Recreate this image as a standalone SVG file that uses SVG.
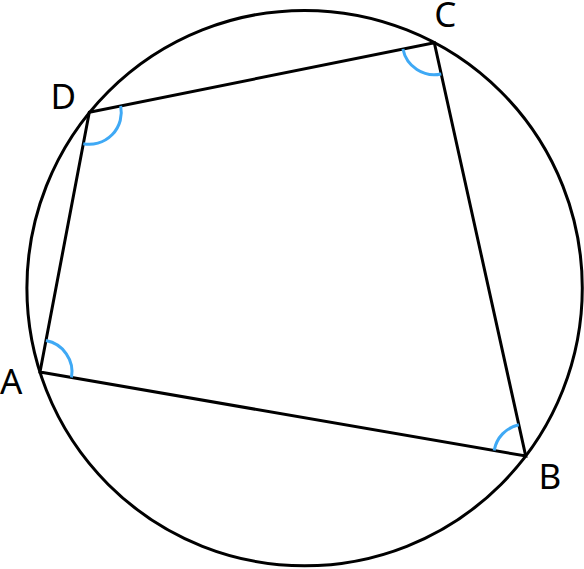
<svg xmlns="http://www.w3.org/2000/svg" width="584" height="569" viewBox="0 0 584 569">
<style>
.ln{fill:none;stroke:#000;stroke-width:3;stroke-linejoin:miter}
.ang{fill:none;stroke:#3fa9f5;stroke-width:3}
.lbl{font-family:"Noto Sans","Open Sans",sans-serif;font-size:35px;fill:#000}
</style>
<rect width="584" height="569" fill="#fff"/>
<g id="circle"><circle class="ln" cx="304.6" cy="288.1" r="277.7"/></g>
<g id="connectors">
<polygon class="ln" points="40,372 525.7,456 434.3,42.7 89.3,112.3"/>
</g>
<g id="angles">
<path class="ang" d="M45.97,340.56 A32,32 0 0 1 71.53,377.45"/>
<path class="ang" d="M494.17,450.55 A32,32 0 0 1 518.79,424.76"/>
<path class="ang" d="M441.21,73.94 A32,32 0 0 1 402.93,49.03"/>
<path class="ang" d="M120.67,105.97 A32,32 0 0 1 83.33,143.74"/>
</g>
<g id="A"><text class="lbl" x="0" y="394">A</text></g>
<g id="B"><text class="lbl" x="538.6" y="489">B</text></g>
<g id="C"><text class="lbl" x="434.3" y="26.5">C</text></g>
<g id="D"><text class="lbl" x="50.6" y="109">D</text></g>
</svg>
